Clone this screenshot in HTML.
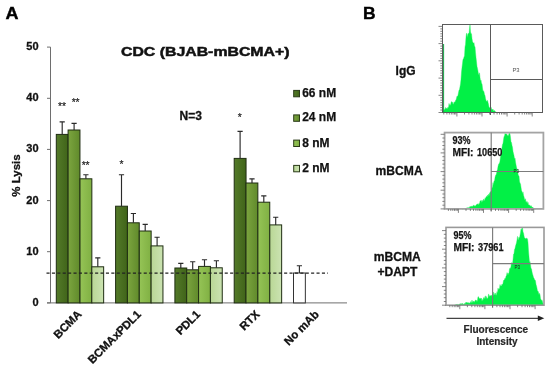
<!DOCTYPE html><html><head><meta charset="utf-8"><title>Figure</title>
<style>html,body{margin:0;padding:0;background:#fff;}svg{display:block;font-family:"Liberation Sans",Arial,sans-serif;}</style></head><body>
<svg width="550" height="369" viewBox="0 0 550 369">
<defs>
<linearGradient id="g0" x1="0" y1="0" x2="1" y2="0"><stop offset="0" stop-color="#547a29"/><stop offset="1" stop-color="#406419"/></linearGradient>
<linearGradient id="g1" x1="0" y1="0" x2="1" y2="0"><stop offset="0" stop-color="#7ca53f"/><stop offset="1" stop-color="#608a2b"/></linearGradient>
<linearGradient id="g2" x1="0" y1="0" x2="1" y2="0"><stop offset="0" stop-color="#95c456"/><stop offset="1" stop-color="#80b043"/></linearGradient>
<linearGradient id="g3" x1="0" y1="0" x2="1" y2="0"><stop offset="0" stop-color="#b9d795"/><stop offset="1" stop-color="#cbe3b2"/></linearGradient>
</defs>
<rect width="550" height="369" fill="#fff"/>
<text x="5.4" y="19.3" font-size="17" font-weight="bold" fill="#000" stroke="#000" stroke-width="0.4" textLength="13" lengthAdjust="spacingAndGlyphs">A</text>
<text x="362.9" y="19.3" font-size="17" font-weight="bold" fill="#000" stroke="#000" stroke-width="0.4" textLength="12.6" lengthAdjust="spacingAndGlyphs">B</text>
<text x="121" y="56.2" font-size="13.2" font-weight="bold" fill="#111" stroke="#111" stroke-width="0.5" textLength="168.5" lengthAdjust="spacingAndGlyphs">CDC (BJAB-mBCMA+)</text>
<g stroke="#6e6e6e" stroke-width="1" fill="none">
<line x1="50.5" y1="47.1" x2="50.5" y2="302.9"/>
<line x1="47.0" y1="302.9" x2="347" y2="302.9"/>
<line x1="47.0" y1="302.9" x2="50.5" y2="302.9"/>
<line x1="47.0" y1="251.7" x2="50.5" y2="251.7"/>
<line x1="47.0" y1="200.6" x2="50.5" y2="200.6"/>
<line x1="47.0" y1="149.4" x2="50.5" y2="149.4"/>
<line x1="47.0" y1="98.3" x2="50.5" y2="98.3"/>
<line x1="47.0" y1="47.1" x2="50.5" y2="47.1"/>
</g>
<text x="38.6" y="305.9" font-size="11" font-weight="bold" text-anchor="end" fill="#111" stroke="#111" stroke-width="0.3">0</text>
<text x="38.6" y="254.7" font-size="11" font-weight="bold" text-anchor="end" fill="#111" stroke="#111" stroke-width="0.3">10</text>
<text x="38.6" y="203.6" font-size="11" font-weight="bold" text-anchor="end" fill="#111" stroke="#111" stroke-width="0.3">20</text>
<text x="38.6" y="152.4" font-size="11" font-weight="bold" text-anchor="end" fill="#111" stroke="#111" stroke-width="0.3">30</text>
<text x="38.6" y="101.3" font-size="11" font-weight="bold" text-anchor="end" fill="#111" stroke="#111" stroke-width="0.3">40</text>
<text x="38.6" y="50.1" font-size="11" font-weight="bold" text-anchor="end" fill="#111" stroke="#111" stroke-width="0.3">50</text>
<text transform="translate(20,175.5) rotate(-90)" font-size="11.5" font-weight="bold" text-anchor="middle" fill="#111" stroke="#111" stroke-width="0.3">% Lysis</text>
<rect x="56.3" y="134.4" width="11.85" height="168.5" fill="url(#g0)" stroke="#1f2d12" stroke-width="1"/>
<path d="M62.2 134.4 V121.89999999999999 M59.6 121.89999999999999 H64.8" stroke="#2a2a2a" stroke-width="1.15" fill="none"/>
<rect x="68.1" y="130.0" width="11.85" height="172.9" fill="url(#g1)" stroke="#1f2d12" stroke-width="1"/>
<path d="M74.1 130.0 V123.3 M71.5 123.3 H76.7" stroke="#2a2a2a" stroke-width="1.15" fill="none"/>
<rect x="80.0" y="178.8" width="11.85" height="124.1" fill="url(#g2)" stroke="#1f2d12" stroke-width="1"/>
<path d="M85.9 178.8 V174.70000000000002 M83.3 174.70000000000002 H88.5" stroke="#2a2a2a" stroke-width="1.15" fill="none"/>
<rect x="91.8" y="266.79999999999995" width="11.85" height="36.1" fill="url(#g3)" stroke="#1f2d12" stroke-width="1"/>
<path d="M97.8 266.79999999999995 V257.90000000000003 M95.2 257.90000000000003 H100.4" stroke="#2a2a2a" stroke-width="1.15" fill="none"/>
<rect x="115.6" y="206.20000000000002" width="11.85" height="96.7" fill="url(#g0)" stroke="#1f2d12" stroke-width="1"/>
<path d="M121.5 206.20000000000002 V174.70000000000002 M118.9 174.70000000000002 H124.1" stroke="#2a2a2a" stroke-width="1.15" fill="none"/>
<rect x="127.4" y="222.8" width="11.85" height="80.1" fill="url(#g1)" stroke="#1f2d12" stroke-width="1"/>
<path d="M133.4 222.8 V213.5 M130.8 213.5 H136.0" stroke="#2a2a2a" stroke-width="1.15" fill="none"/>
<rect x="139.3" y="231.0" width="11.85" height="71.9" fill="url(#g2)" stroke="#1f2d12" stroke-width="1"/>
<path d="M145.2 231.0 V224.3 M142.6 224.3 H147.8" stroke="#2a2a2a" stroke-width="1.15" fill="none"/>
<rect x="151.1" y="245.9" width="11.85" height="57.0" fill="url(#g3)" stroke="#1f2d12" stroke-width="1"/>
<path d="M157.1 245.9 V237.20000000000002 M154.5 237.20000000000002 H159.7" stroke="#2a2a2a" stroke-width="1.15" fill="none"/>
<rect x="174.9" y="268.0" width="11.85" height="34.9" fill="url(#g0)" stroke="#1f2d12" stroke-width="1"/>
<path d="M180.8 268.0 V263.3 M178.2 263.3 H183.4" stroke="#2a2a2a" stroke-width="1.15" fill="none"/>
<rect x="186.7" y="269.79999999999995" width="11.85" height="33.1" fill="url(#g1)" stroke="#1f2d12" stroke-width="1"/>
<path d="M192.7 269.79999999999995 V261.7 M190.1 261.7 H195.3" stroke="#2a2a2a" stroke-width="1.15" fill="none"/>
<rect x="198.6" y="266.4" width="11.85" height="36.5" fill="url(#g2)" stroke="#1f2d12" stroke-width="1"/>
<path d="M204.5 266.4 V259.7 M201.9 259.7 H207.1" stroke="#2a2a2a" stroke-width="1.15" fill="none"/>
<rect x="210.4" y="267.79999999999995" width="11.85" height="35.1" fill="url(#g3)" stroke="#1f2d12" stroke-width="1"/>
<path d="M216.4 267.79999999999995 V260.7 M213.8 260.7 H219.0" stroke="#2a2a2a" stroke-width="1.15" fill="none"/>
<rect x="234.2" y="158.4" width="11.85" height="144.5" fill="url(#g0)" stroke="#1f2d12" stroke-width="1"/>
<path d="M240.1 158.4 V131.3 M237.5 131.3 H242.7" stroke="#2a2a2a" stroke-width="1.15" fill="none"/>
<rect x="246.0" y="183.0" width="11.85" height="119.9" fill="url(#g1)" stroke="#1f2d12" stroke-width="1"/>
<path d="M252.0 183.0 V178.9 M249.4 178.9 H254.6" stroke="#2a2a2a" stroke-width="1.15" fill="none"/>
<rect x="257.9" y="202.20000000000002" width="11.85" height="100.7" fill="url(#g2)" stroke="#1f2d12" stroke-width="1"/>
<path d="M263.8 202.20000000000002 V195.9 M261.2 195.9 H266.4" stroke="#2a2a2a" stroke-width="1.15" fill="none"/>
<rect x="269.8" y="224.9" width="11.85" height="78.0" fill="url(#g3)" stroke="#1f2d12" stroke-width="1"/>
<path d="M275.7 224.9 V217.20000000000002 M273.1 217.20000000000002 H278.3" stroke="#2a2a2a" stroke-width="1.15" fill="none"/>
<rect x="293.5" y="273.0" width="11.85" height="29.9" fill="#fff" stroke="#333" stroke-width="1"/>
<path d="M299.4 273.0 V265.7 M296.8 265.7 H302.0" stroke="#2a2a2a" stroke-width="1.15" fill="none"/>
<line x1="46.5" y1="273.1" x2="328" y2="273.1" stroke="#222" stroke-width="1.1" stroke-dasharray="3.1 2.3"/>
<text x="62" y="110.2" font-size="10.2" text-anchor="middle" fill="#222" stroke="#222" stroke-width="0.2">**</text>
<text x="75.6" y="106.2" font-size="10.2" text-anchor="middle" fill="#222" stroke="#222" stroke-width="0.2">**</text>
<text x="85.6" y="168.8" font-size="10.2" text-anchor="middle" fill="#222" stroke="#222" stroke-width="0.2">**</text>
<text x="121.6" y="167.6" font-size="10.2" text-anchor="middle" fill="#222" stroke="#222" stroke-width="0.2">*</text>
<text x="239.8" y="120.8" font-size="10.2" text-anchor="middle" fill="#222" stroke="#222" stroke-width="0.2">*</text>
<text x="179.6" y="120" font-size="12" font-weight="bold" fill="#111" stroke="#111" stroke-width="0.3">N=3</text>
<rect x="293.7" y="90.4" width="5.8" height="6.4" fill="url(#g0)" stroke="#2a3a18" stroke-width="1"/>
<text x="302.2" y="96.9" font-size="12" font-weight="bold" fill="#111" stroke="#111" stroke-width="0.25">66 nM</text>
<rect x="293.7" y="114.9" width="5.8" height="6.4" fill="url(#g1)" stroke="#2a3a18" stroke-width="1"/>
<text x="302.2" y="121.4" font-size="12" font-weight="bold" fill="#111" stroke="#111" stroke-width="0.25">24 nM</text>
<rect x="293.7" y="140.1" width="5.8" height="6.4" fill="url(#g2)" stroke="#2a3a18" stroke-width="1"/>
<text x="302.2" y="146.6" font-size="12" font-weight="bold" fill="#111" stroke="#111" stroke-width="0.25">8 nM</text>
<rect x="293.7" y="165.4" width="5.8" height="6.4" fill="url(#g3)" stroke="#2a3a18" stroke-width="1"/>
<text x="302.2" y="171.9" font-size="12" font-weight="bold" fill="#111" stroke="#111" stroke-width="0.25">2 nM</text>
<text transform="translate(82.4,315) rotate(-45)" font-size="11.4" font-weight="bold" text-anchor="end" fill="#111" stroke="#111" stroke-width="0.3">BCMA</text>
<text transform="translate(141.7,315) rotate(-45)" font-size="11.4" font-weight="bold" text-anchor="end" fill="#111" stroke="#111" stroke-width="0.3">BCMAxPDL1</text>
<text transform="translate(201.0,315) rotate(-45)" font-size="11.4" font-weight="bold" text-anchor="end" fill="#111" stroke="#111" stroke-width="0.3">PDL1</text>
<text transform="translate(260.3,315) rotate(-45)" font-size="11.4" font-weight="bold" text-anchor="end" fill="#111" stroke="#111" stroke-width="0.3">RTX</text>
<text transform="translate(319.6,315) rotate(-45)" font-size="11.4" font-weight="bold" text-anchor="end" fill="#111" stroke="#111" stroke-width="0.3">No mAb</text>
<text x="395.6" y="75" font-size="12" font-weight="bold" fill="#111" stroke="#111" stroke-width="0.3">IgG</text>
<text x="375.6" y="174.6" font-size="12.1" font-weight="bold" fill="#111" stroke="#111" stroke-width="0.3">mBCMA</text>
<text x="397.3" y="261" font-size="12.1" font-weight="bold" text-anchor="middle" fill="#111" stroke="#111" stroke-width="0.3">mBCMA</text>
<text x="397.5" y="275.6" font-size="12.1" font-weight="bold" text-anchor="middle" fill="#111" stroke="#111" stroke-width="0.3">+DAPT</text>
<text x="495.8" y="332.8" font-size="10" font-weight="bold" text-anchor="middle" fill="#262626" stroke="#262626" stroke-width="0.2">Fluorescence</text>
<text x="497" y="344.8" font-size="10" font-weight="bold" text-anchor="middle" fill="#262626" stroke="#262626" stroke-width="0.2">Intensity</text>
<path d="M446.5 318.3 H539" stroke="#444" stroke-width="1.3" fill="none"/><path d="M537.8 315.6 L544.3 318.3 L537.8 321 Z" fill="#222"/>
<path d="M443.0 112.5 L443.0 111.9 L443.5 110.7 L444.0 110.6 L444.5 109.4 L445.0 109.0 L445.5 107.4 L446.0 109.0 L446.5 107.9 L447.0 108.8 L447.5 108.2 L448.0 107.1 L448.5 108.1 L449.0 103.4 L449.5 105.4 L450.0 104.5 L450.5 105.4 L451.0 102.7 L451.5 101.6 L452.0 102.1 L452.5 102.2 L453.0 103.9 L453.5 104.3 L454.0 101.9 L454.5 102.2 L455.0 102.2 L455.5 100.5 L456.0 100.1 L456.5 98.2 L457.0 96.1 L457.5 96.6 L458.0 95.2 L458.5 92.6 L459.0 90.3 L459.5 89.5 L460.0 86.8 L460.5 83.9 L461.0 79.2 L461.5 72.0 L462.0 67.6 L462.5 63.5 L463.0 59.2 L463.5 58.9 L464.0 57.1 L464.5 56.0 L465.0 46.9 L465.5 44.5 L466.0 37.0 L466.5 33.4 L467.0 33.4 L467.5 37.5 L468.0 34.0 L468.5 33.1 L469.0 33.7 L469.5 28.6 L470.0 24.5 L470.5 31.6 L471.0 34.0 L471.5 33.7 L472.0 38.6 L472.5 41.6 L473.0 42.6 L473.5 43.2 L474.0 42.7 L474.5 46.6 L475.0 46.6 L475.5 52.4 L476.0 57.6 L476.5 61.7 L477.0 66.6 L477.5 68.4 L478.0 71.2 L478.5 74.2 L479.0 74.4 L479.5 72.8 L480.0 77.4 L480.5 80.8 L481.0 80.1 L481.5 83.6 L482.0 83.7 L482.5 87.8 L483.0 91.2 L483.5 90.8 L484.0 92.0 L484.5 94.6 L485.0 95.5 L485.5 98.6 L486.0 100.2 L486.5 101.5 L487.0 100.8 L487.5 100.5 L488.0 102.5 L488.5 104.3 L489.0 107.1 L489.5 107.6 L490.0 108.2 L490.5 106.4 L491.0 107.0 L491.5 108.8 L492.0 109.8 L492.5 109.7 L493.0 109.0 L493.5 110.9 L494.0 110.9 L494.5 110.5 L495.0 111.1 L495.5 112.1 L496.0 111.9 L496.5 112.4 L497.0 112.5 L497.5 112.5 L497.6 112.5 Z" fill="#02f046" stroke="#1cf258" stroke-width="0.4"/>
<g stroke="#5a5a5a" stroke-width="1" fill="none">
<rect x="442.5" y="24.5" width="100.0" height="88.0"/>
</g>
<g stroke="#5a5a5a" stroke-width="1" fill="none">
<line x1="490.5" y1="24.5" x2="490.5" y2="115.0"/>
<line x1="490.5" y1="79.5" x2="542.5" y2="79.5"/>
</g>
<path d="M438.5 112.5 H442.5 M440.3 110.0 H442.5 M440.3 107.6 H442.5 M440.3 105.1 H442.5 M440.3 102.7 H442.5 M440.3 100.2 H442.5 M440.3 97.7 H442.5 M438.5 95.3 H442.5 M440.3 92.8 H442.5 M440.3 90.4 H442.5 M440.3 87.9 H442.5 M440.3 85.4 H442.5 M440.3 83.0 H442.5 M440.3 80.5 H442.5 M438.5 78.1 H442.5 M440.3 75.6 H442.5 M440.3 73.1 H442.5 M440.3 70.7 H442.5 M440.3 68.2 H442.5 M440.3 65.8 H442.5 M440.3 63.3 H442.5 M438.5 60.8 H442.5 M440.3 58.4 H442.5 M440.3 55.9 H442.5 M440.3 53.5 H442.5 M440.3 51.0 H442.5 M440.3 48.5 H442.5 M440.3 46.1 H442.5 M438.5 43.6 H442.5 M440.3 41.2 H442.5 M440.3 38.7 H442.5 M440.3 36.2 H442.5 M440.3 33.8 H442.5 M440.3 31.3 H442.5 M440.3 28.9 H442.5 M438.5 26.4 H442.5 M443.8 112.5 V114.5 M446.9 112.5 V114.5 M449.3 112.5 V114.5 M451.3 112.5 V114.5 M453.0 112.5 V114.5 M454.5 112.5 V114.5 M455.8 112.5 V114.5 M456.9 112.5 V116.5 M464.5 112.5 V114.5 M468.9 112.5 V114.5 M472.0 112.5 V114.5 M474.4 112.5 V114.5 M476.4 112.5 V114.5 M478.1 112.5 V114.5 M479.6 112.5 V114.5 M480.9 112.5 V114.5 M482.0 112.5 V116.5 M489.6 112.5 V114.5 M494.0 112.5 V114.5 M497.1 112.5 V114.5 M499.5 112.5 V114.5 M501.5 112.5 V114.5 M503.2 112.5 V114.5 M504.7 112.5 V114.5 M506.0 112.5 V114.5 M507.1 112.5 V116.5 M514.7 112.5 V114.5 M519.1 112.5 V114.5 M522.2 112.5 V114.5 M524.6 112.5 V114.5 M526.6 112.5 V114.5 M528.3 112.5 V114.5 M529.8 112.5 V114.5 M531.1 112.5 V114.5 M532.2 112.5 V116.5" stroke="#666" stroke-width="0.8" fill="none"/>
<text x="512.4" y="71.6" font-size="5.8" fill="#555">P3</text>
<line x1="443.6" y1="44" x2="443.6" y2="112.5" stroke="#14a045" stroke-width="1"/>
<path d="M462.0 208.9 L462.0 208.8 L462.5 208.9 L463.0 208.7 L463.5 208.2 L464.0 208.9 L464.5 208.6 L465.0 208.4 L465.5 208.6 L466.0 208.1 L466.5 208.0 L467.0 207.9 L467.5 207.7 L468.0 207.7 L468.5 207.8 L469.0 207.5 L469.5 207.4 L470.0 206.4 L470.5 207.0 L471.0 206.1 L471.5 206.2 L472.0 206.9 L472.5 206.0 L473.0 206.3 L473.5 205.2 L474.0 205.3 L474.5 206.3 L475.0 205.6 L475.5 206.2 L476.0 205.2 L476.5 204.6 L477.0 204.2 L477.5 203.9 L478.0 204.3 L478.5 204.8 L479.0 203.3 L479.5 203.9 L480.0 201.3 L480.5 200.8 L481.0 200.4 L481.5 202.4 L482.0 200.0 L482.5 201.3 L483.0 201.6 L483.5 199.2 L484.0 199.4 L484.5 200.9 L485.0 197.9 L485.5 198.5 L486.0 197.0 L486.5 196.3 L487.0 197.2 L487.5 195.0 L488.0 196.4 L488.5 194.1 L489.0 195.9 L489.5 193.2 L490.0 192.5 L490.5 191.9 L491.0 191.1 L491.5 191.0 L492.0 187.5 L492.5 187.4 L493.0 182.6 L493.5 184.9 L494.0 181.1 L494.5 181.1 L495.0 177.5 L495.5 175.6 L496.0 175.0 L496.5 173.5 L497.0 170.8 L497.5 169.7 L498.0 166.6 L498.5 164.5 L499.0 163.5 L499.5 163.3 L500.0 161.1 L500.5 156.9 L501.0 153.0 L501.5 152.9 L502.0 147.6 L502.5 144.5 L503.0 143.4 L503.5 139.7 L504.0 136.7 L504.5 136.1 L505.0 133.4 L505.5 134.0 L506.0 134.0 L506.5 133.8 L507.0 134.7 L507.5 136.2 L508.0 134.7 L508.5 136.3 L509.0 133.4 L509.5 132.6 L510.0 134.1 L510.5 137.2 L511.0 142.1 L511.5 142.5 L512.0 145.5 L512.5 147.3 L513.0 151.6 L513.5 153.5 L514.0 155.6 L514.5 158.7 L515.0 158.0 L515.5 162.1 L516.0 164.8 L516.5 167.3 L517.0 169.1 L517.5 170.0 L518.0 174.1 L518.5 175.7 L519.0 176.0 L519.5 181.3 L520.0 183.2 L520.5 183.8 L521.0 187.3 L521.5 190.5 L522.0 191.6 L522.5 193.6 L523.0 191.9 L523.5 195.2 L524.0 196.7 L524.5 199.1 L525.0 200.2 L525.5 198.7 L526.0 202.5 L526.5 202.0 L527.0 201.2 L527.5 203.8 L528.0 202.3 L528.5 204.8 L529.0 205.3 L529.5 205.1 L530.0 205.5 L530.5 206.5 L531.0 205.5 L531.5 206.2 L532.0 207.5 L532.5 207.0 L533.0 207.6 L533.5 208.3 L534.0 208.5 L534.5 208.5 L535.0 208.3 L535.5 208.9 L536.0 208.9 L536.0 208.9 Z" fill="#02f046" stroke="#1cf258" stroke-width="0.4"/>
<g stroke="#a4a4a4" stroke-width="1.8" fill="none">
<rect x="444.6" y="132.6" width="98.79999999999995" height="76.30000000000001"/>
</g>
<g stroke="#7c7c7c" stroke-width="1.15" fill="none">
<line x1="491.2" y1="132.6" x2="491.2" y2="211.4"/>
<line x1="491.2" y1="171.5" x2="543.4" y2="171.5"/>
</g>
<path d="M440.6 208.9 H444.6 M442.4 205.2 H444.6 M442.4 201.4 H444.6 M442.4 197.7 H444.6 M442.4 194.0 H444.6 M440.6 190.2 H444.6 M442.4 186.5 H444.6 M442.4 182.8 H444.6 M442.4 179.1 H444.6 M442.4 175.3 H444.6 M440.6 171.6 H444.6 M442.4 167.9 H444.6 M442.4 164.1 H444.6 M442.4 160.4 H444.6 M442.4 156.7 H444.6 M440.6 152.9 H444.6 M442.4 149.2 H444.6 M442.4 145.5 H444.6 M442.4 141.8 H444.6 M442.4 138.0 H444.6 M440.6 134.3 H444.6 M448.4 208.9 V210.9 M450.8 208.9 V210.9 M452.8 208.9 V210.9 M454.5 208.9 V210.9 M456.0 208.9 V210.9 M457.3 208.9 V210.9 M458.4 208.9 V212.9 M466.0 208.9 V210.9 M470.4 208.9 V210.9 M473.5 208.9 V210.9 M475.9 208.9 V210.9 M477.9 208.9 V210.9 M479.6 208.9 V210.9 M481.1 208.9 V210.9 M482.4 208.9 V210.9 M483.5 208.9 V212.9 M491.1 208.9 V210.9 M495.5 208.9 V210.9 M498.6 208.9 V210.9 M501.0 208.9 V210.9 M503.0 208.9 V210.9 M504.7 208.9 V210.9 M506.2 208.9 V210.9 M507.5 208.9 V210.9 M508.6 208.9 V212.9 M516.2 208.9 V210.9 M520.6 208.9 V210.9 M523.7 208.9 V210.9 M526.1 208.9 V210.9 M528.1 208.9 V210.9 M529.8 208.9 V210.9 M531.3 208.9 V210.9 M532.6 208.9 V210.9 M533.7 208.9 V212.9" stroke="#666" stroke-width="0.8" fill="none"/>
<text x="513.5" y="172.5" font-size="4.5" fill="#222">P3</text>
<text x="452.4" y="143.8" font-size="10" font-weight="bold" fill="#151515" stroke="#151515" stroke-width="0.25" textLength="18" lengthAdjust="spacingAndGlyphs">93%</text>
<text x="452.4" y="155.8" font-size="10" font-weight="bold" fill="#151515" stroke="#151515" stroke-width="0.25" textLength="21" lengthAdjust="spacingAndGlyphs">MFI:</text>
<text x="477.0" y="155.8" font-size="10" font-weight="bold" fill="#151515" stroke="#151515" stroke-width="0.25" textLength="25.4" lengthAdjust="spacingAndGlyphs">10650</text>
<path d="M455.0 305.2 L455.0 304.7 L455.5 305.1 L456.0 304.8 L456.5 304.6 L457.0 304.5 L457.5 304.4 L458.0 304.9 L458.5 304.8 L459.0 304.8 L459.5 304.1 L460.0 303.7 L460.5 303.7 L461.0 304.1 L461.5 303.7 L462.0 303.8 L462.5 303.3 L463.0 304.2 L463.5 304.3 L464.0 304.2 L464.5 303.4 L465.0 304.1 L465.5 303.1 L466.0 302.0 L466.5 302.5 L467.0 302.7 L467.5 302.6 L468.0 302.9 L468.5 302.6 L469.0 303.4 L469.5 302.8 L470.0 303.3 L470.5 301.6 L471.0 302.7 L471.5 302.6 L472.0 300.1 L472.5 302.8 L473.0 301.6 L473.5 301.0 L474.0 302.6 L474.5 301.6 L475.0 301.2 L475.5 300.0 L476.0 300.0 L476.5 300.6 L477.0 301.7 L477.5 299.9 L478.0 296.8 L478.5 296.8 L479.0 298.0 L479.5 298.6 L480.0 298.8 L480.5 298.2 L481.0 298.6 L481.5 298.1 L482.0 301.5 L482.5 299.5 L483.0 300.2 L483.5 297.8 L484.0 297.7 L484.5 299.0 L485.0 296.3 L485.5 295.9 L486.0 299.0 L486.5 296.5 L487.0 298.2 L487.5 298.5 L488.0 298.0 L488.5 294.2 L489.0 294.6 L489.5 296.4 L490.0 296.0 L490.5 295.9 L491.0 295.0 L491.5 295.4 L492.0 296.5 L492.5 294.6 L493.0 295.9 L493.5 292.1 L494.0 295.1 L494.5 294.4 L495.0 292.9 L495.5 293.6 L496.0 295.5 L496.5 294.4 L497.0 291.5 L497.5 293.0 L498.0 288.1 L498.5 289.8 L499.0 288.7 L499.5 288.7 L500.0 284.5 L500.5 286.0 L501.0 286.3 L501.5 285.8 L502.0 284.0 L502.5 284.7 L503.0 283.4 L503.5 280.6 L504.0 280.0 L504.5 279.8 L505.0 278.1 L505.5 278.7 L506.0 276.2 L506.5 275.6 L507.0 272.6 L507.5 273.4 L508.0 274.9 L508.5 273.2 L509.0 272.7 L509.5 269.1 L510.0 267.9 L510.5 268.4 L511.0 266.3 L511.5 262.6 L512.0 263.7 L512.5 264.1 L513.0 259.9 L513.5 254.2 L514.0 253.8 L514.5 249.4 L515.0 248.6 L515.5 246.1 L516.0 244.4 L516.5 242.8 L517.0 240.1 L517.5 236.3 L518.0 240.3 L518.5 239.0 L519.0 237.0 L519.5 238.2 L520.0 235.2 L520.5 232.7 L521.0 229.0 L521.5 229.9 L522.0 227.4 L522.5 227.7 L523.0 232.1 L523.5 232.9 L524.0 235.8 L524.5 237.9 L525.0 238.1 L525.5 238.7 L526.0 238.6 L526.5 238.2 L527.0 238.3 L527.5 238.9 L528.0 242.7 L528.5 250.8 L529.0 256.8 L529.5 262.4 L530.0 261.5 L530.5 264.7 L531.0 268.5 L531.5 268.8 L532.0 271.8 L532.5 274.0 L533.0 275.5 L533.5 277.5 L534.0 278.0 L534.5 280.0 L535.0 279.8 L535.5 280.9 L536.0 284.4 L536.5 285.9 L537.0 288.3 L537.5 291.2 L538.0 291.0 L538.5 292.4 L539.0 294.7 L539.5 293.3 L540.0 294.7 L540.5 298.6 L541.0 299.6 L541.5 300.5 L542.0 299.9 L542.5 301.7 L543.0 303.7 L543.5 304.8 L543.5 305.2 Z" fill="#02f046" stroke="#1cf258" stroke-width="0.4"/>
<g stroke="#999" stroke-width="1.6" fill="none">
<rect x="446" y="227.4" width="98" height="77.79999999999998"/>
</g>
<g stroke="#7c7c7c" stroke-width="1.15" fill="none">
<line x1="492.6" y1="227.4" x2="492.6" y2="307.7"/>
<line x1="492.6" y1="263.6" x2="544" y2="263.6"/>
</g>
<path d="M442.0 305.2 H446 M443.8 301.5 H446 M443.8 297.7 H446 M443.8 294.0 H446 M443.8 290.3 H446 M442.0 286.6 H446 M443.8 282.8 H446 M443.8 279.1 H446 M443.8 275.4 H446 M443.8 271.6 H446 M442.0 267.9 H446 M443.8 264.2 H446 M443.8 260.4 H446 M443.8 256.7 H446 M443.8 253.0 H446 M442.0 249.2 H446 M443.8 245.5 H446 M443.8 241.8 H446 M443.8 238.1 H446 M443.8 234.3 H446 M442.0 230.6 H446 M449.8 305.2 V307.2 M452.2 305.2 V307.2 M454.2 305.2 V307.2 M455.9 305.2 V307.2 M457.4 305.2 V307.2 M458.7 305.2 V307.2 M459.8 305.2 V309.2 M467.4 305.2 V307.2 M471.8 305.2 V307.2 M474.9 305.2 V307.2 M477.3 305.2 V307.2 M479.3 305.2 V307.2 M481.0 305.2 V307.2 M482.5 305.2 V307.2 M483.8 305.2 V307.2 M484.9 305.2 V309.2 M492.5 305.2 V307.2 M496.9 305.2 V307.2 M500.0 305.2 V307.2 M502.4 305.2 V307.2 M504.4 305.2 V307.2 M506.1 305.2 V307.2 M507.6 305.2 V307.2 M508.9 305.2 V307.2 M510.0 305.2 V309.2 M517.6 305.2 V307.2 M522.0 305.2 V307.2 M525.1 305.2 V307.2 M527.5 305.2 V307.2 M529.5 305.2 V307.2 M531.2 305.2 V307.2 M532.7 305.2 V307.2 M534.0 305.2 V307.2 M535.1 305.2 V309.2" stroke="#666" stroke-width="0.8" fill="none"/>
<text x="514.5" y="269" font-size="4.5" fill="#222">P3</text>
<text x="453.5" y="238.8" font-size="10" font-weight="bold" fill="#151515" stroke="#151515" stroke-width="0.25" textLength="18" lengthAdjust="spacingAndGlyphs">95%</text>
<text x="453.5" y="250.8" font-size="10" font-weight="bold" fill="#151515" stroke="#151515" stroke-width="0.25" textLength="21" lengthAdjust="spacingAndGlyphs">MFI:</text>
<text x="478.1" y="250.8" font-size="10" font-weight="bold" fill="#151515" stroke="#151515" stroke-width="0.25" textLength="25.4" lengthAdjust="spacingAndGlyphs">37961</text>
</svg></body></html>
